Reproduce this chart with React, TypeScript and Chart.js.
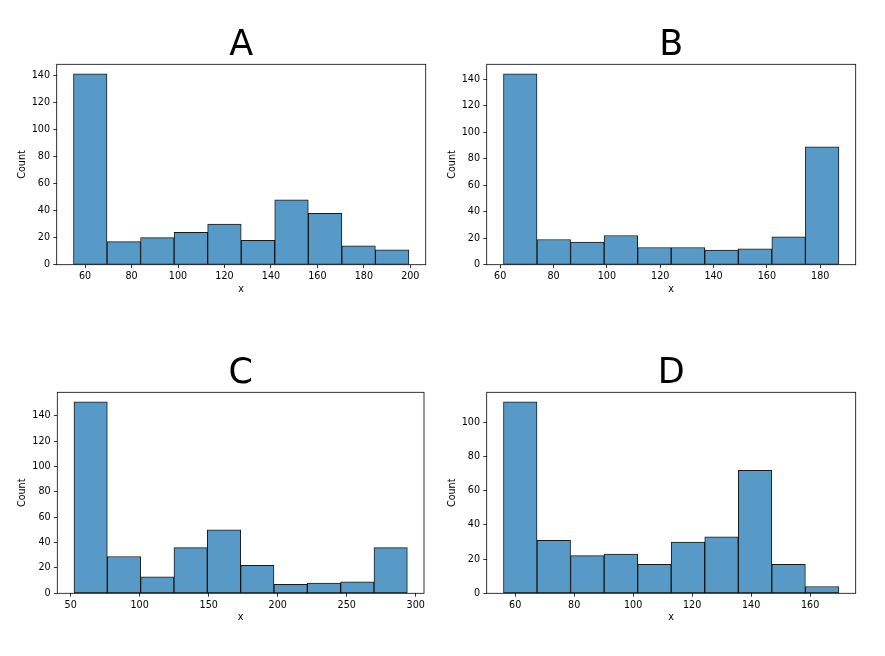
import React, { useEffect, useRef } from 'react';
import { Chart, registerables } from 'chart.js';

Chart.register(...registerables);

// ---- data ----
const binsA = [55.0, 69.44, 83.88, 98.32, 112.76, 127.2, 141.64, 156.08, 170.52, 184.96, 199.4];
const countsA = [141, 17, 20, 24, 30, 18, 48, 38, 14, 11];
const xTicksA = [60, 80, 100, 120, 140, 160, 180, 200];
const yTicksA = [0, 20, 40, 60, 80, 100, 120, 140];

const binsB = [61.25, 73.83, 86.4, 98.98, 111.55, 124.13, 136.7, 149.28, 161.85, 174.43, 187.0];
const countsB = [144, 19, 17, 22, 13, 13, 11, 12, 21, 89];
const xTicksB = [60, 80, 100, 120, 140, 160, 180];
const yTicksB = [0, 20, 40, 60, 80, 100, 120, 140];

const binsC = [52.4, 76.55, 100.7, 124.85, 149.0, 173.15, 197.3, 221.45, 245.6, 269.75, 293.9];
const countsC = [151, 29, 13, 36, 50, 22, 7, 8, 9, 36];
const xTicksC = [50, 100, 150, 200, 250, 300];
const yTicksC = [0, 20, 40, 60, 80, 100, 120, 140];

const binsD = [56.05, 67.42, 78.79, 90.16, 101.53, 112.9, 124.27, 135.64, 147.01, 158.38, 169.75];
const countsD = [112, 31, 22, 23, 17, 30, 33, 72, 17, 4];
const xTicksD = [60, 80, 100, 120, 140, 160];
const yTicksD = [0, 20, 40, 60, 80, 100];

const titles = ['A', 'B', 'C', 'D'];

// ---- layout (canvas placement and plot-area box inside each canvas) ----
const CW = 440;
const CH = 300;
const boxA = { x: 0, y: 0, left: 56.7, top: 64.3, right: 425.7, bottom: 264.7 };
const boxB = { x: 430, y: 0, left: 56.7, top: 64.3, right: 425.7, bottom: 264.7 };
const boxC = { x: 0, y: 328, left: 57.3, top: 64.3, right: 424.0, bottom: 265.3 };
const boxD = { x: 430, y: 328, left: 56.7, top: 64.3, right: 425.7, bottom: 265.3 };

const FAMILY = "'DejaVu Sans', sans-serif";
const FS = 9.6;

const framePlugin = {
  id: 'frame',
  afterDraw(chart: any) {
    const { ctx, chartArea } = chart;
    const { left, top, right, bottom } = chartArea;
    ctx.save();
    ctx.strokeStyle = '#000';
    ctx.lineWidth = 0.8;
    ctx.strokeRect(left, top, right - left, bottom - top);
    ctx.restore();
  },
};

type Box = { x: number; y: number; left: number; top: number; right: number; bottom: number };

function Hist(props: {
  title: string;
  bins: number[];
  counts: number[];
  xTicks: number[];
  yTicks: number[];
  box: Box;
}) {
  const ref = useRef<HTMLCanvasElement>(null);
  const { title, bins, counts, xTicks, yTicks, box } = props;

  useEffect(() => {
    if (!ref.current) return;
    const points = counts.map((c, i) => ({ x: (bins[i] + bins[i + 1]) / 2, y: c }));
    const lo = bins[0];
    const hi = bins[bins.length - 1];
    const margin = (hi - lo) * 0.05;
    const ymax = Math.max(...counts) * 1.05;
    const titleTop = 28.8;
    const tickFont = { family: FAMILY, size: FS };

    const chart = new Chart(ref.current, {
      type: 'bar',
      data: {
        datasets: [
          {
            data: points as any,
            backgroundColor: 'rgb(88,154,199)',
            borderColor: 'rgba(0,0,0,0.9)',
            borderWidth: 1,
            borderSkipped: false,
            barPercentage: 1,
            categoryPercentage: 1,
          } as any,
        ],
      },
      plugins: [framePlugin],
      options: {
        animation: false,
        responsive: false,
        events: [],
        layout: { padding: { left: 0, top: 0, right: CW - box.right, bottom: 0 } },
        plugins: {
          legend: { display: false },
          tooltip: { enabled: false },
          title: {
            display: true,
            text: title,
            fullSize: false,
            color: '#000',
            font: { family: FAMILY, size: 35, weight: 'normal', lineHeight: 1 } as any,
            padding: { top: titleTop, bottom: box.top - 35 - titleTop },
          },
        },
        scales: {
          x: {
            type: 'linear',
            min: lo - margin,
            max: hi + margin,
            offset: false,
            afterBuildTicks: (s: any) => {
              s.ticks = xTicks.map((v) => ({ value: v }));
            },
            afterFit: (s: any) => {
              s.height = CH - box.bottom;
            },
            grid: {
              display: true,
              offset: false,
              drawOnChartArea: false,
              drawTicks: true,
              tickLength: 3.4,
              color: '#000',
              lineWidth: 0.8,
            },
            border: { display: false },
            ticks: { font: tickFont, color: '#000', padding: 3, autoSkip: false, maxRotation: 0 },
            title: {
              display: true,
              text: 'x',
              color: '#000',
              font: tickFont,
              padding: { top: 0, bottom: 4.5 },
            },
          } as any,
          y: {
            type: 'linear',
            min: 0,
            max: ymax,
            afterBuildTicks: (s: any) => {
              s.ticks = yTicks.map((v) => ({ value: v }));
            },
            afterFit: (s: any) => {
              s.width = box.left;
            },
            grid: {
              display: true,
              offset: false,
              drawOnChartArea: false,
              drawTicks: true,
              tickLength: 3.4,
              color: '#000',
              lineWidth: 0.8,
            },
            border: { display: false },
            ticks: { font: tickFont, color: '#000', padding: 3.3, autoSkip: false },
            title: {
              display: true,
              text: 'Count',
              color: '#000',
              font: tickFont,
              padding: { top: 17, bottom: 0 },
            },
          } as any,
        },
      },
    });
    return () => chart.destroy();
  }, []);

  return (
    <canvas
      ref={ref}
      width={CW}
      height={CH}
      style={{ position: 'absolute', left: box.x, top: box.y, width: CW, height: CH }}
    />
  );
}

export default function App() {
  return (
    <div style={{ position: 'absolute', left: 0, top: 0, width: 885, height: 656, background: '#fff' }}>
      <Hist title={titles[0]} bins={binsA} counts={countsA} xTicks={xTicksA} yTicks={yTicksA} box={boxA} />
      <Hist title={titles[1]} bins={binsB} counts={countsB} xTicks={xTicksB} yTicks={yTicksB} box={boxB} />
      <Hist title={titles[2]} bins={binsC} counts={countsC} xTicks={xTicksC} yTicks={yTicksC} box={boxC} />
      <Hist title={titles[3]} bins={binsD} counts={countsD} xTicks={xTicksD} yTicks={yTicksD} box={boxD} />
    </div>
  );
}
